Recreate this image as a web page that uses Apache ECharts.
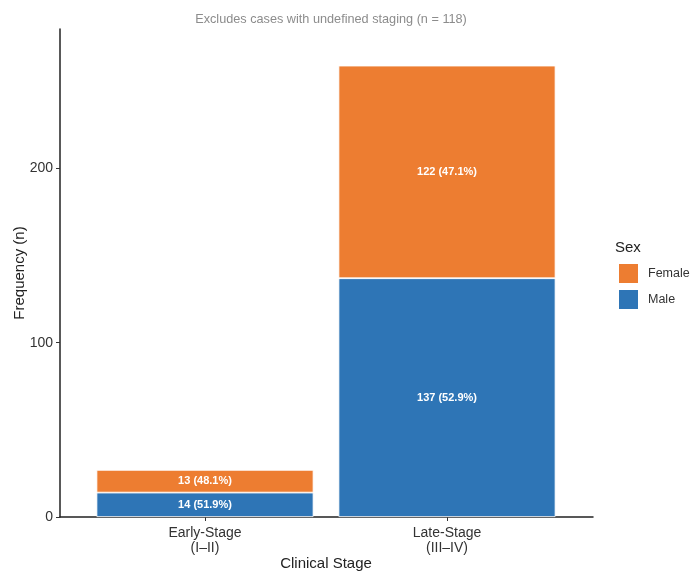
<!DOCTYPE html>
<html>
<head>
<meta charset="utf-8">
<script src="https://cdn.jsdelivr.net/npm/echarts@6/dist/echarts.min.js"></script>
<style>
  html, body { margin: 0; padding: 0; background: #fff; }
  #chart { width: 698px; height: 582px; }
</style>
</head>
<body>
<div id="chart"></div>
<script>
// data
const categories = ['Early-Stage\n(I–II)', 'Late-Stage\n(III–IV)']
const maleCounts = [14, 137]
const femaleCounts = [13, 122]
const yTicks = [0, 100, 200]

const totals = maleCounts.map((m, i) => m + femaleCounts[i])

function pctLabel(values) {
  return p => {
    const pct = (values[p.dataIndex] / totals[p.dataIndex] * 100).toFixed(1)
    return values[p.dataIndex] + ' (' + pct + '%)'
  }
}

const chart = echarts.init(document.getElementById('chart'))

const labelStyle = {
  show: true,
  position: 'inside',
  color: '#fff',
  fontSize: 11,
  fontWeight: 'bold'
}

// grid 0 holds the bars (category spacing like ggplot),
// grid 1 is the wider panel that carries the axis lines
chart.setOption({
  animation: false,
  textStyle: { fontFamily: 'Liberation Sans, Arial, sans-serif' },
  title: [
    {
      text: 'Excludes cases with undefined staging (n = 118)',
      left: 326,
      textAlign: 'center',
      top: 8,
      textStyle: { fontSize: 12.7, fontWeight: 'normal', color: '#8c8c8c' }
    },
    {
      text: 'Sex',
      left: 610,
      top: 235,
      textStyle: { fontSize: 15, fontWeight: 'normal', color: '#222' }
    }
  ],
  legend: {
    orient: 'vertical',
    left: 617,
    top: 262,
    padding: 0,
    itemWidth: 21,
    itemHeight: 21,
    itemGap: 3,
    icon: 'rect',
    data: ['Female', 'Male'],
    textStyle: { fontSize: 12.5, color: '#333', padding: [0, 0, 0, 4] }
  },
  grid: [
    { left: 84, right: 130, top: 29, bottom: 65, outerBoundsMode: 'none' },
    { left: 60, right: 105, top: 29, bottom: 65, outerBoundsMode: 'none' }
  ],
  xAxis: [
    {
      gridIndex: 0,
      type: 'category',
      data: categories,
      name: 'Clinical Stage',
      nameLocation: 'middle',
      nameGap: 39,
      nameMoveOverlap: false,
      nameTextStyle: { fontSize: 15, color: '#222' },
      axisLine: { show: false },
      axisTick: { show: true, alignWithLabel: true, length: 4, lineStyle: { color: '#333' } },
      axisLabel: { fontSize: 14, color: '#333', margin: 9, lineHeight: 15 }
    },
    {
      gridIndex: 1,
      type: 'value',
      min: 0,
      max: 1,
      axisLine: { show: true, onZero: false, lineStyle: { color: '#222', width: 1.5 } },
      axisTick: { show: false },
      axisLabel: { show: false },
      splitLine: { show: false }
    }
  ],
  yAxis: [
    {
      gridIndex: 0,
      type: 'value',
      min: 0,
      max: 280,
      show: false,
      splitLine: { show: false }
    },
    {
      gridIndex: 1,
      type: 'value',
      min: 0,
      max: 280,
      name: 'Frequency (n)',
      nameLocation: 'middle',
      nameGap: 33,
      nameMoveOverlap: false,
      nameTextStyle: { fontSize: 15, color: '#222' },
      axisLine: { show: true, onZero: false, lineStyle: { color: '#222', width: 1.5 } },
      axisTick: { show: true, length: 4, customValues: yTicks, lineStyle: { color: '#333' } },
      axisLabel: { fontSize: 14, color: '#333', margin: 7, customValues: yTicks },
      splitLine: { show: false }
    }
  ],
  series: [
    {
      name: 'Male',
      type: 'bar',
      stack: 'sex',
      xAxisIndex: 0,
      yAxisIndex: 0,
      data: maleCounts,
      barWidth: 217,
      itemStyle: { color: '#2E75B6', borderColor: '#fff', borderWidth: 0.8 },
      label: Object.assign({}, labelStyle, { formatter: pctLabel(maleCounts) })
    },
    {
      name: 'Female',
      type: 'bar',
      stack: 'sex',
      xAxisIndex: 0,
      yAxisIndex: 0,
      data: femaleCounts,
      barWidth: 217,
      itemStyle: { color: '#ED7D31', borderColor: '#fff', borderWidth: 0.8 },
      label: Object.assign({}, labelStyle, { formatter: pctLabel(femaleCounts) })
    }
  ]
})
</script>
</body>
</html>
